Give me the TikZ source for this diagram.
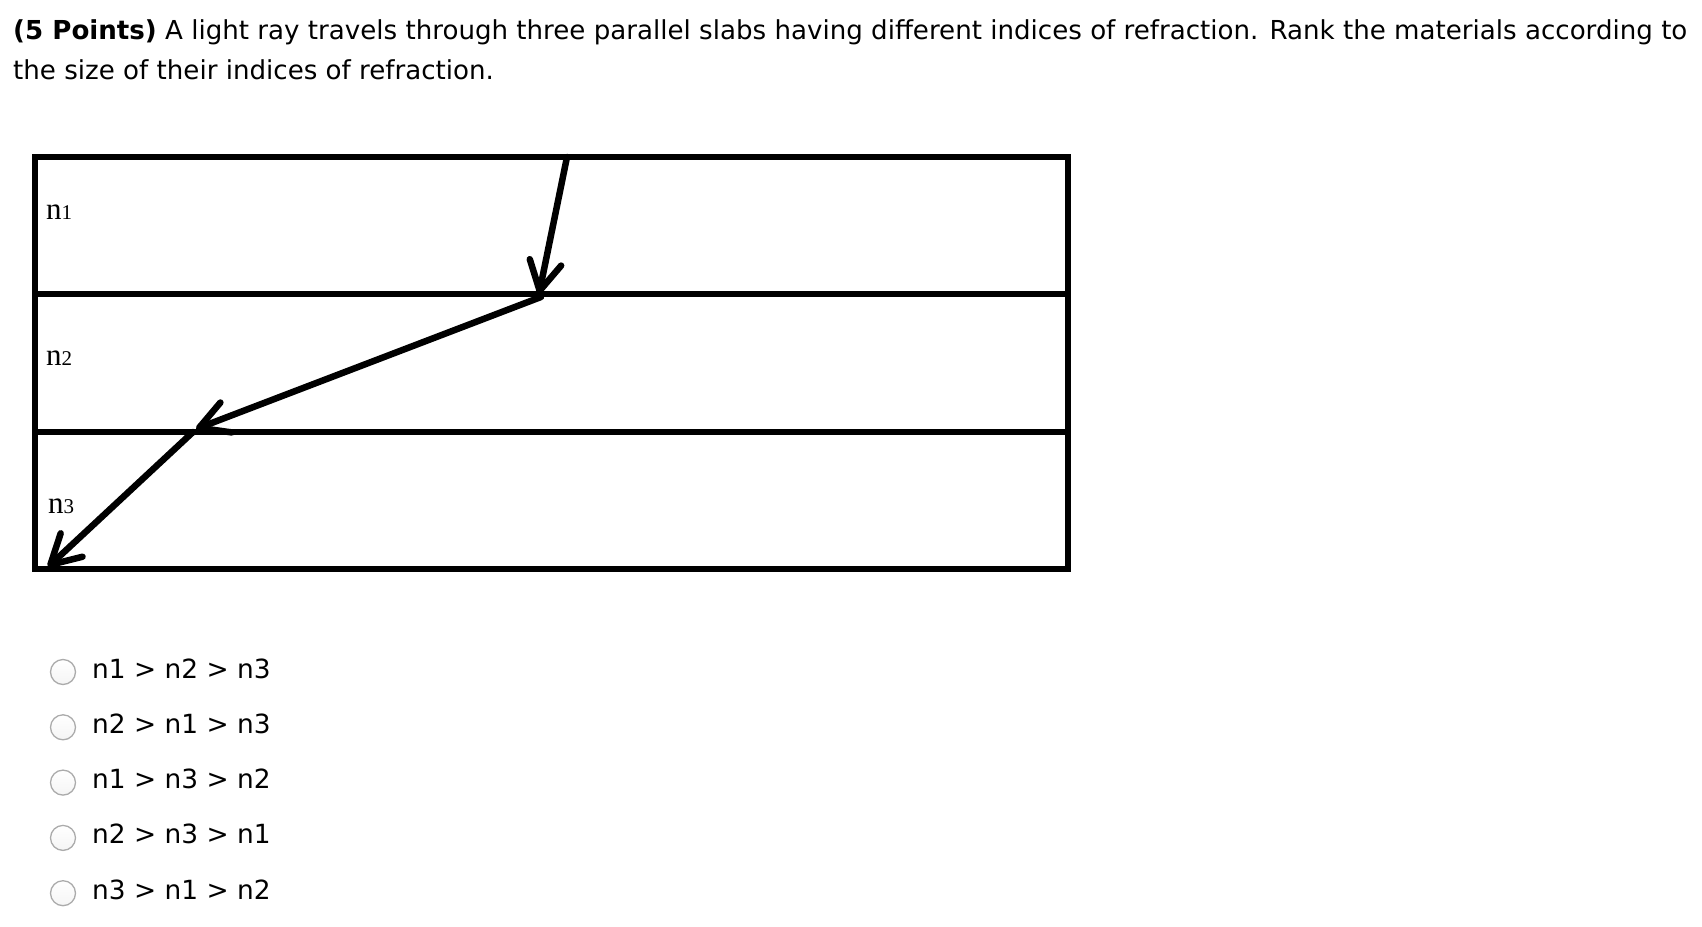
\documentclass[tikz,border=0pt]{standalone}
\usepackage{fontspec}
\setmainfont{DejaVu Sans}
\newfontfamily\lserif{Liberation Serif}
\usetikzlibrary{arrows.meta}
\begin{document}
\begin{tikzpicture}[x=1pt,y=-1pt,
  slab/.style={line width=5.5pt, line cap=rect},
  ray/.style={line width=6.5pt, line cap=round, -{Straight Barb[length=29pt,width=32pt,round]}},
  qtext/.style={anchor=base west, inner sep=0pt, font=\fontsize{26.1}{30}\selectfont},
  opt/.style={anchor=base west, inner sep=0pt, font=\fontsize{26.4}{30}\selectfont},
  radio/.style={circle, draw=black!33, line width=1.3pt, minimum size=25pt, inner sep=0pt, top color=white, bottom color=black!4},
  lab/.style={anchor=base west, inner sep=0pt}
]
\useasboundingbox (0,0) rectangle (1702,926);

% question text
\node[qtext] (q1) at (13,39) {\textbf{(5 Points)} A light ray travels through three parallel slabs having different indices of refraction. Rank the materials according to};
\node[qtext] (q2) at (13,79) {the size of their indices of refraction.};

% slabs
\draw[slab] (35,157) rectangle (1068,569);
\draw[slab] (35,294) -- (1068,294);
\draw[slab] (35,432) -- (1068,432);

% labels
\node[lab] (n1) at (46,219) {\lserif\fontsize{31}{31}\selectfont n\fontsize{21}{21}\selectfont 1};
\node[lab] (n2) at (46,365) {\lserif\fontsize{31}{31}\selectfont n\fontsize{21}{21}\selectfont 2};
\node[lab] (n3) at (48,513) {\lserif\fontsize{31}{31}\selectfont n\fontsize{21}{21}\selectfont 3};

% ray
\coordinate (p0) at (567,157);
\coordinate (p1) at (539,294);
\coordinate (p1b) at (541,297);
\coordinate (p2) at (196,429);
\coordinate (p2b) at (193,432);
\coordinate (p3) at (48,567);
\draw[ray] (p0) -- (p1);
\draw[ray] (p1b) -- (p2);
\draw[ray] (p2b) -- (p3);

% options
\foreach \i/\t in {0/{n1 > n2 > n3},1/{n2 > n1 > n3},2/{n1 > n3 > n2},3/{n2 > n3 > n1},4/{n3 > n1 > n2}}{
  \node[radio] (r\i) at (63,{672+55.3*\i}) {};
  \node[opt] (o\i) at (92,{678+55.3*\i}) {\t};
}
\end{tikzpicture}
\end{document}
